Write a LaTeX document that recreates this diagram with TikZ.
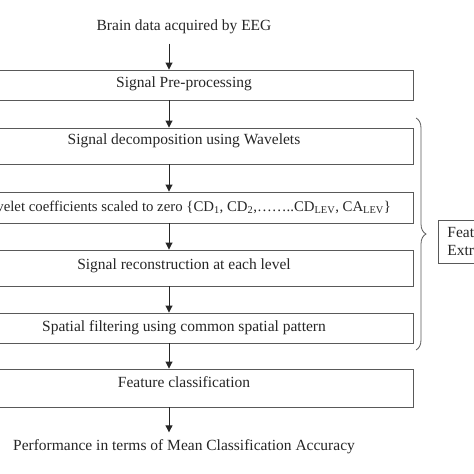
\documentclass[tikz,border=0pt]{standalone}
\usepackage{fontspec}
\setmainfont{Liberation Serif}
\usetikzlibrary{arrows.meta,positioning,calc,decorations.pathreplacing}

\tikzset{
  stage/.style={draw=black!65, line width=0.9pt, minimum width=458pt, inner sep=0pt, text height=11pt},
  flow/.style={-{Triangle[length=7pt,width=7pt]}, line width=0.9pt, black!85},
}

\begin{document}
\begin{tikzpicture}[x=1pt, y=-1pt, font=\fontsize{15.5}{18}\selectfont, text=black!85]
\useasboundingbox (0,0) rectangle (474,474);
\clip (0,0) rectangle (474,474);
\coordinate (spine) at (169,0);

\node (eeg) at (184,27) {Brain data acquired by EEG};
\node[stage, minimum height=30pt, text depth=7pt] (pre) at (184,85) {Signal Pre-processing};
\node[stage, minimum height=36pt, text depth=15pt] (dec) at (184,146) {Signal decomposition using Wavelets};
\node[stage, minimum height=31pt, text depth=3pt, font=\fontsize{14.8}{18}\selectfont] (coef) at (184,207.5) {Wavelet coefficients scaled to zero \{CD\textsubscript{1}, CD\textsubscript{2},……..CD\textsubscript{LEV}, CA\textsubscript{LEV}\}};
\node[stage, minimum height=36pt, text depth=9pt] (rec) at (184,268) {Signal reconstruction at each level};
\node[stage, minimum height=30pt, text depth=5pt] (csp) at (184,328) {Spatial filtering using common spatial pattern};
\node[stage, minimum height=38pt, text depth=13pt] (cls) at (184,388) {Feature classification};
\node (acc) at (184,447) {Performance in terms of Mean Classification Accuracy};

\node[draw=black!65, line width=0.9pt, anchor=west, align=left, inner xsep=9pt, minimum height=43pt] (fx) at (438,241.5) {Feature\\Extraction};

% main chain
\draw[flow, shorten <=6pt] (eeg.south -| spine) -- (pre.north -| spine);
\draw[flow] (pre.south -| spine) -- (dec.north -| spine);
\draw[flow] (dec.south -| spine) -- (coef.north -| spine);
\draw[flow] (coef.south -| spine) -- (rec.north -| spine);
\draw[flow] (rec.south -| spine) -- (csp.north -| spine);
\draw[flow] (csp.south -| spine) -- (cls.north -| spine);
\draw[flow, shorten >=4pt] (cls.south -| spine) -- (acc.north -| spine);

% brace
\coordinate (btop) at (416,118);
\coordinate (bbot) at (416,350);
\draw[black!65, line width=0.8pt, decoration={brace, amplitude=10pt}, decorate] (btop) -- (bbot);
\end{tikzpicture}
\end{document}
